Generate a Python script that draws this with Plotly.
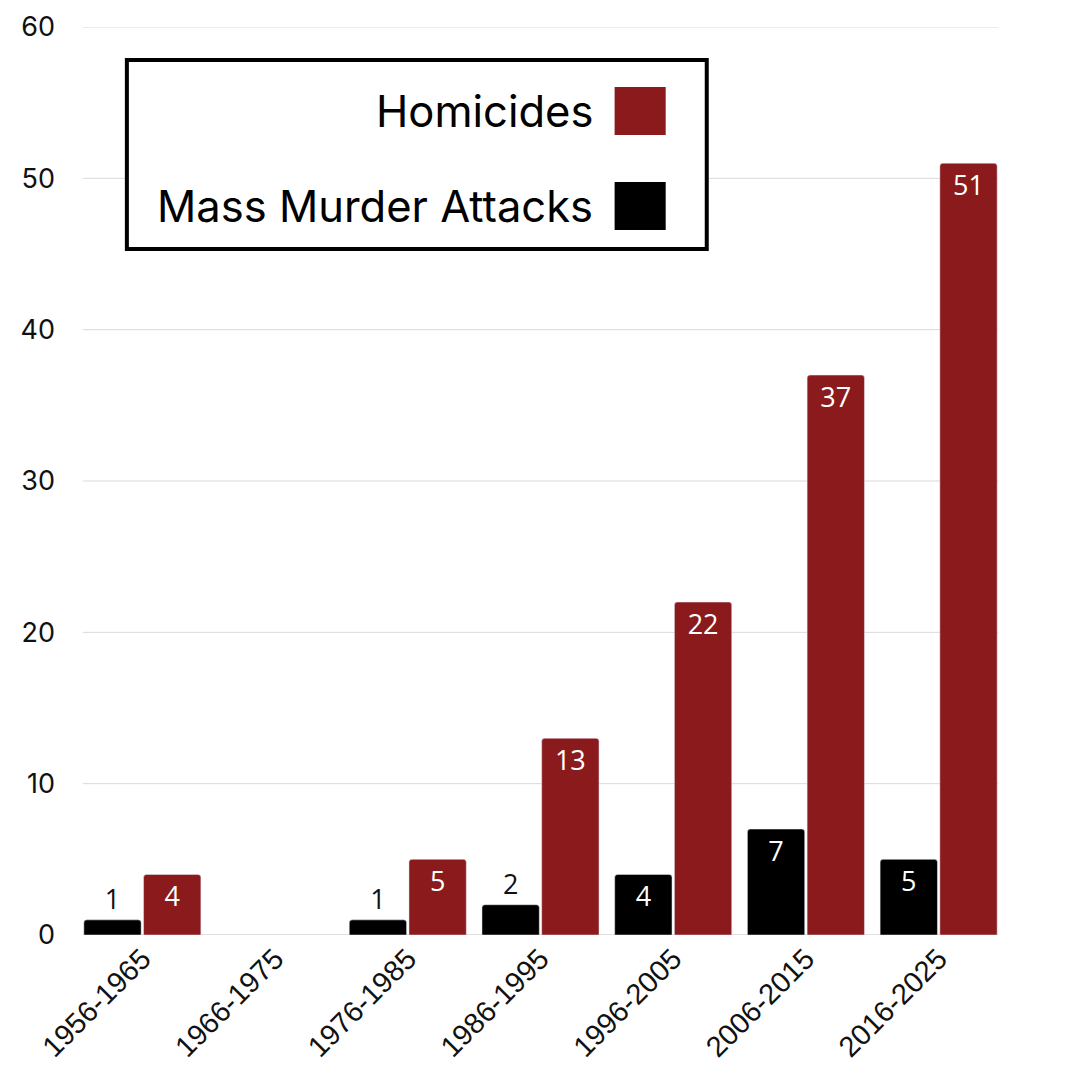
import plotly.graph_objects as go

categories = ["1956-1965", "1966-1975", "1976-1985", "1986-1995", "1996-2005", "2006-2015", "2016-2025"]
mass_murder = [1, None, 1, 2, 4, 7, 5]
homicides = [4, None, 5, 13, 22, 37, 51]
y_ticks = [0, 10, 20, 30, 40, 50, 60]

RED = "#8B1A1C"
BLACK = "#000000"

mm_pos = ["outside" if (v is not None and v < 3) else "inside" for v in mass_murder]

fig = go.Figure()
fig.add_trace(go.Bar(
    x=categories, y=mass_murder, name="Mass Murder Attacks",
    marker=dict(color=BLACK),
    text=[str(v) if v is not None else "" for v in mass_murder],
    textposition=mm_pos, insidetextanchor="end",
    insidetextfont=dict(color="white", size=27, family="Open Sans"),
    outsidetextfont=dict(color="#111111", size=27, family="Open Sans"),
    cliponaxis=False, showlegend=False,
))
fig.add_trace(go.Bar(
    x=categories, y=homicides, name="Homicides",
    marker=dict(color=RED),
    text=[str(v) if v is not None else "" for v in homicides],
    textposition="inside", insidetextanchor="end",
    insidetextfont=dict(color="white", size=27, family="Open Sans"),
    cliponaxis=False, showlegend=False,
))

fig.update_layout(
    width=1080, height=1080,
    margin=dict(l=68, r=83, t=19, b=153),
    paper_bgcolor="white", plot_bgcolor="white",
    barmode="group", bargap=0.1, bargroupgap=0.04,
    barcornerradius=3,
    xaxis=dict(
        type="category", tickangle=-45, automargin=False,
        tickfont=dict(family="Liberation Sans", size=29, color="#111111"),
        showgrid=False, showline=False, ticks="", zeroline=False,
    ),
    yaxis=dict(
        range=[0, 60], tickvals=y_ticks, automargin=False,
        tickfont=dict(family="Inter", size=27, color="#111111"),
        showgrid=False, zeroline=False,
        showline=False, ticks="", ticklabelstandoff=20,
    ),
)

def fx(x): return (x - 76.2) / 927.6
def fy(y): return (934 - y) / 908

# Gridlines (slightly inset like the reference)
for t in y_ticks:
    fig.add_shape(type="line", xref="paper", yref="y",
                  x0=fx(83), x1=fx(997), y0=t, y1=t,
                  line=dict(color="#d9d9d9", width=1.5 if t == 0 else 1),
                  layer="below")

# Custom legend box (text left of swatch)
fig.add_shape(type="rect", xref="paper", yref="paper",
              x0=fx(127), x1=fx(706), y0=fy(248), y1=fy(59),
              line=dict(color="black", width=4), fillcolor="white", layer="above")
legend_items = [("Homicides", RED, 110), ("Mass Murder Attacks", BLACK, 205)]
for label, color, cy in legend_items:
    fig.add_shape(type="rect", xref="paper", yref="paper",
                  x0=fx(614), x1=fx(665), y0=fy(cy + 24), y1=fy(cy - 24),
                  line=dict(width=0), fillcolor=color, layer="above")
    fig.add_annotation(xref="paper", yref="paper",
                       x=fx(594), y=fy(cy),
                       xanchor="right", yanchor="middle", showarrow=False,
                       text=label, font=dict(family="Inter", size=43.5, color="black"))

fig.write_html("out.html")
